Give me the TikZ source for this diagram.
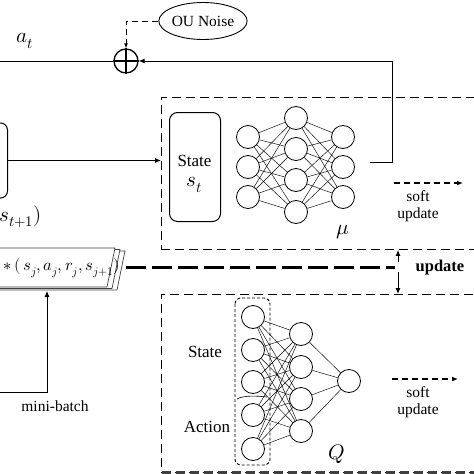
\documentclass[tikz,border=0pt]{standalone}
\usepackage{fontspec}
\setmainfont{Liberation Serif}
\usepackage{unicode-math}
\setmathfont{Latin Modern Math}
\usetikzlibrary{arrows.meta,shapes.geometric,calc}
\begin{document}
\begin{tikzpicture}[x=1pt,y=-1pt,
  neuron/.style={circle, draw, line width=0.8pt, minimum size=23pt, inner sep=0pt},
  lbl/.style={font=\fontsize{15.5}{17}\selectfont},
  big/.style={font=\fontsize{17}{19}\selectfont},
  mth/.style={font=\fontsize{21}{23}\selectfont},
  dbox/.style={draw, dash pattern=on 9pt off 5pt, line width=0.9pt, inner sep=0pt},
  conn/.style={line width=0.45pt},
  arr/.style={line width=0.9pt, -{Latex[length=6pt,width=5pt]}},
]
\useasboundingbox (0,0) rectangle (474,474);

% ---------- top: OU noise and sum ----------
\node[ellipse, draw, line width=0.9pt, minimum width=74pt, minimum height=37pt, inner sep=0pt, lbl] (ou) at (203,21) {OU Noise};
\node[circle, draw, line width=1.3pt, minimum size=24pt, inner sep=0pt] (sum) at (126,61) {};
\draw[line width=1.3pt] (sum.north) -- (sum.south) (sum.west) -- (sum.east);
\draw[line width=0.9pt, dash pattern=on 6pt off 4pt, -{Latex[length=5pt,width=4pt]}] (ou.west) -| (sum.north);
\coordinate (atL) at (0,61);
\draw[line width=0.9pt] (atL) -- (sum.west);
\node[mth] (at) at (25,41) {$a_t$};

% ---------- left environment box ----------
\node[draw, rounded corners=7pt, line width=1pt, minimum width=60pt, minimum height=75pt, anchor=east] (env) at (8,160.5) {};
\node[mth, anchor=east, inner sep=0pt] (stl) at (42,217) {$s_{t+1})$};

% ---------- actor ----------
\node[dbox, minimum width=340pt, minimum height=152pt, anchor=north west] (actor) at (161,97) {};
\draw[arr] (env.east) -- (env.east -| actor.west);
\node[draw, rounded corners=8pt, line width=1pt, minimum width=51pt, minimum height=109pt, inner sep=0pt, anchor=north west] (sbox) at (169,112) {};
\node[big, align=center] (stxt) at (194.5,174) {State\\[1pt]{\fontsize{21}{23}\selectfont$s_t$}};

\foreach \i/\y in {1/137,2/167,3/197} \node[neuron] (a1\i) at (248,\y) {};
\foreach \i/\y in {1/118,2/149,3/180,4/212} \node[neuron] (a2\i) at (296,\y) {};
\foreach \i/\y in {1/137,2/167,3/197} \node[neuron] (a3\i) at (343,\y) {};
\foreach \i in {1,2,3} \foreach \j in {1,2,3,4} {
  \draw[conn] (a1\i) -- (a2\j);
  \draw[conn] (a2\j) -- (a3\i);
}
\node[mth] (mu) at (343,232) {$\mu$};
\coordinate (aout) at (370,162);
\draw[line width=0.9pt, -{Latex[length=6pt,width=5pt]}] (aout) -- (392,162) -- (392,61) -- (sum.east);

\coordinate (su1a) at (394,183);
\coordinate (su1b) at (463,183);
\draw[line width=1.2pt, dash pattern=on 6pt off 4pt, -{Latex[length=6pt,width=5pt]}] (su1a) -- (su1b);
\node[lbl, align=center] (su1) at (418,206) {soft\\update};

% ---------- replay buffer ----------
\foreach \dx/\dy in {10/3,5/1.5,0/0}
  \draw[line width=0.7pt, fill=white, draw=black!75] ($(-20,248)+(\dx,\dy)$) -- ($(115,248)+(\dx,\dy)$) -- ($(107,287)+(\dx,\dy)$) -- ($(-20,287)+(\dx,\dy)$) -- cycle;
\node[font=\fontsize{16.5}{20}\selectfont, anchor=east, inner sep=0pt] (buf) at (120,268) {$*\,(\,s_j,a_j,r_j,s_{j+1})$};
\coordinate (bufR) at (126,267);
\coordinate (bufB) at (47,291);
\coordinate (mbL) at (0,392);
\draw[line width=0.9pt, -{Latex[length=6pt,width=5pt]}] (mbL) -- (47,392) -- (bufB);
\node[lbl] (mb) at (55,406) {mini-batch};

% ---------- critic ----------
\node[dbox, minimum width=340pt, minimum height=178pt, anchor=north west] (critic) at (161,294) {};
\draw[line width=3pt, draw=black!75, dash pattern=on 9pt off 5pt] (162,472) -- (480,472);

\foreach \i/\y in {1/317,2/350,3/382,4/415,5/449} \node[neuron] (c1\i) at (253,\y) {};
\foreach \i/\y in {1/334,2/367,3/399,4/431} \node[neuron] (c2\i) at (301,\y) {};
\node[neuron] (c3) at (349,381) {};
\foreach \i in {1,...,5} \foreach \j in {1,...,4} \draw[conn] (c1\i) -- (c2\j);
\foreach \j in {1,...,4} \draw[conn] (c2\j) -- (c3);
\draw[line width=0.9pt, dash pattern=on 3pt off 2pt, rounded corners=6pt] (235,298) rectangle (270,465);
\draw[line width=0.6pt] (237,399) .. controls (244,395) and (258,396) .. (267,397);
\node[big] (cst) at (205,352) {State};
\node[big] (cac) at (207,427) {Action};
\node[mth] (q) at (337,454) {$Q$};

\coordinate (su2a) at (392,379);
\coordinate (su2b) at (458,379);
\draw[line width=1.2pt, dash pattern=on 6pt off 4pt, -{Latex[length=6pt,width=5pt]}] (su2a) -- (su2b);
\node[lbl, align=center] (su2) at (418,402) {soft\\update};

% ---------- update ----------
\coordinate (hub) at (398,267);
\draw[line width=3pt, dash pattern=on 20pt off 6pt] (bufR) -- (395,267);
\draw[line width=1pt, -{Latex[length=6pt,width=5pt]}] ($(hub)+(0,-5)$) -- (hub |- actor.south);
\draw[line width=1pt, -{Latex[length=6pt,width=5pt]}] ($(hub)+(0,5)$) -- (hub |- critic.north);
\node[font=\fontsize{16.5}{18}\selectfont\bfseries] (upd) at (440,268) {update};
\end{tikzpicture}
\end{document}
